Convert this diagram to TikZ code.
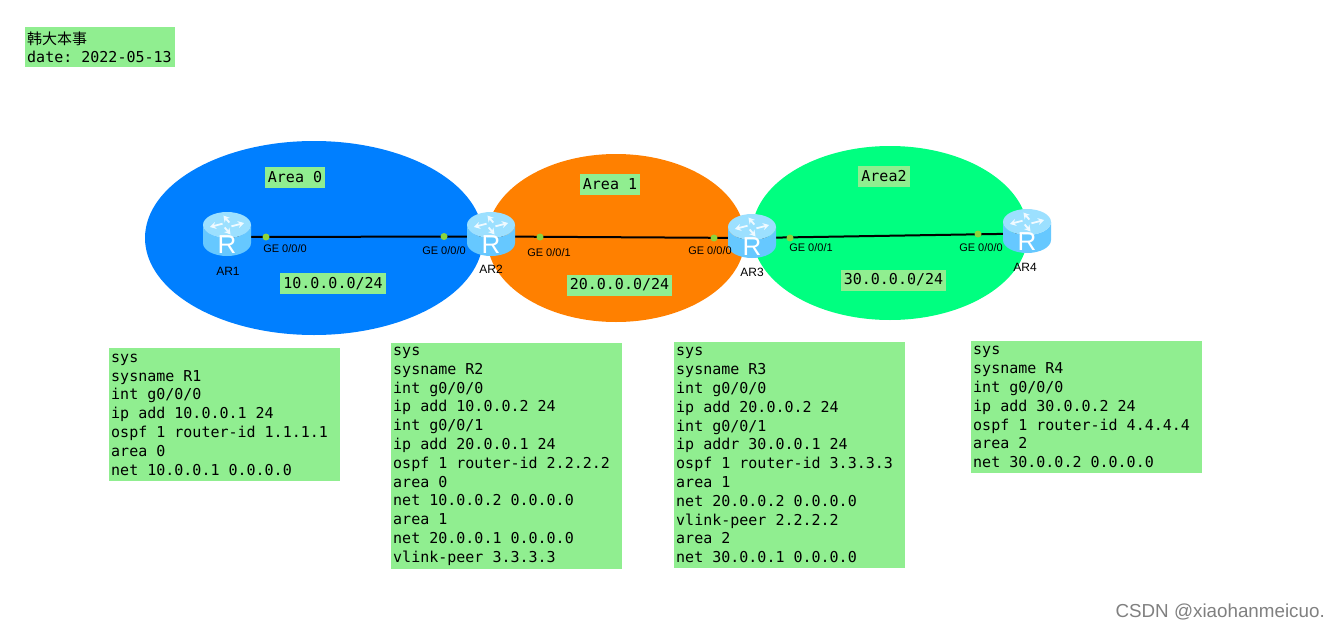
\documentclass[tikz,border=0pt]{standalone}
\usepackage{fontspec}
\setmainfont{Liberation Sans}
\setmonofont{DejaVu Sans Mono}
\newfontfamily\cjkfont{Noto Sans CJK SC}
\usetikzlibrary{arrows.meta}
\definecolor{boxgreen}{HTML}{90EE90}
\definecolor{areablue}{HTML}{007FFF}
\definecolor{areaorange}{HTML}{FF8000}
\definecolor{areagreen}{HTML}{00FF80}
\definecolor{portgreen}{HTML}{8CD43C}
\definecolor{routeredge}{HTML}{66C8FF}
\definecolor{routermid}{HTML}{BDEEFF}
\definecolor{routertop}{HTML}{9CE0FF}
\tikzset{
	cmdbox/.style={fill=boxgreen, anchor=north west, text width=227pt, inner xsep=2pt, inner ysep=3pt, align=flush left, font=\ttfamily\fontsize{15}{18.8}\selectfont},
	tagbox/.style={fill=boxgreen, inner xsep=3pt, inner ysep=0pt, minimum height=21pt, font=\ttfamily\fontsize{15}{18}\selectfont},
	hub/.style={minimum size=1pt, inner sep=0pt},
	portdot/.style={circle, fill=portgreen, inner sep=0pt, minimum size=7pt},
	portlabel/.style={inner sep=0pt, font=\fontsize{11}{13}\selectfont},
	routerlabel/.style={inner sep=0pt, font=\fontsize{12}{14}\selectfont},
	link/.style={line width=2pt, color=black},
}
% router drawn around its centre, #3 is the node name
\newcommand{\routericon}[3]{
	\node[minimum width=48pt, minimum height=44pt, inner sep=0pt] (#3) at (#1, #2) {};
	\begin{scope}[shift={(#1, #2)}]
		\shade[left color=routeredge, middle color=routermid, right color=routeredge]
			(-24, -9) -- (-24, 9) arc (180:0:24 and 13) -- (24, -9) arc (0:180:24 and 13) -- cycle;
		\fill[routertop] (0, -9) ellipse (24 and 13);
		\begin{scope}[shift={(0, -9)}, yscale=0.55]
			\foreach \turn in {25, 115, 205, 295}
				\draw[white!85!routertop, line width=1.8pt, -{Stealth[length=6pt, width=7pt]}, rotate=\turn] (3, 4) -- (17, 4);
		\end{scope}
		\node[inner sep=0pt, text=white, font=\fontsize{26}{26}\selectfont] (#3R) at (0, 11) {R};
	\end{scope}
}

\begin{document}
\begin{tikzpicture}[x=1pt, y=-1pt]
	\useasboundingbox (0, 0) rectangle (1339, 629);
	\fill[white] (0, 0) rectangle (1339, 629);

	%%%%% AREAS %%%%%
	\fill[areablue] (314, 238) ellipse (169 and 97);
	\fill[areaorange] (616, 238) ellipse (129 and 84);
	\fill[areagreen] (890, 233) ellipse (138 and 87);

	%%%%% LINKS %%%%%
	\node[hub] (hub1) at (228, 237) {};
	\node[hub] (hub2) at (491, 236.5) {};
	\node[hub] (hub3) at (752, 238) {};
	\node[hub] (hub4) at (1027, 233.5) {};
	\draw[link] (hub1) -- (hub2);
	\draw[link] (hub2) -- (hub3);
	\draw[link] (hub3) -- (hub4);

	\routericon{227}{234}{AR1}
	\routericon{491}{234}{AR2}
	\routericon{752}{236}{AR3}
	\routericon{1027}{231}{AR4}

	\node[portdot] (dot1) at (266, 237) {};
	\node[portdot] (dot2) at (444, 236.5) {};
	\node[portdot] (dot3) at (540, 237) {};
	\node[portdot] (dot4) at (714, 238) {};
	\node[portdot] (dot5) at (790, 238) {};
	\node[portdot] (dot6) at (978, 234) {};

	\node[portlabel] (ge1) at (285, 249) {GE 0/0/0};
	\node[portlabel] (ge2) at (444, 251) {GE 0/0/0};
	\node[portlabel] (ge3) at (549, 253) {GE 0/0/1};
	\node[portlabel] (ge4) at (710, 251) {GE 0/0/0};
	\node[portlabel] (ge5) at (811, 248) {GE 0/0/1};
	\node[portlabel] (ge6) at (981, 248) {GE 0/0/0};

	\node[routerlabel] (name1) at (228, 271) {AR1};
	\node[routerlabel] (name2) at (491, 269) {AR2};
	\node[routerlabel] (name3) at (752, 272) {AR3};
	\node[routerlabel] (name4) at (1025, 267) {AR4};

	%%%%% TAGS %%%%%
	\node[tagbox] (tag0) at (295, 177.5) {Area 0};
	\node[tagbox] (tag1) at (610, 184) {Area 1};
	\node[tagbox] (tag2) at (884, 176) {Area2};
	\node[tagbox] (net1) at (333, 283.5) {10.0.0.0/24};
	\node[tagbox] (net2) at (619.5, 285) {20.0.0.0/24};
	\node[tagbox] (net3) at (893.5, 280) {30.0.0.0/24};

	%%%%% COMMANDS %%%%%
	\node[cmdbox, text width=146pt, minimum height=40pt] (title) at (25, 27) {{\cjkfont 韩大本事}\\date: 2022-05-13};
	\node[cmdbox, minimum height=133pt] (cmd1) at (109, 348) {sys\\sysname R1\\int g0/0/0\\ip add 10.0.0.1 24\\ospf 1 router-id 1.1.1.1\\area 0\\net 10.0.0.1 0.0.0.0};
	\node[cmdbox, minimum height=226pt] (cmd2) at (391, 343) {sys\\sysname R2\\int g0/0/0\\ip add 10.0.0.2 24\\int g0/0/1\\ip add 20.0.0.1 24\\ospf 1 router-id 2.2.2.2\\area 0\\net 10.0.0.2 0.0.0.0\\area 1\\net 20.0.0.1 0.0.0.0\\vlink-peer 3.3.3.3};
	\node[cmdbox, minimum height=226pt] (cmd3) at (674, 342) {sys\\sysname R3\\int g0/0/0\\ip add 20.0.0.2 24\\int g0/0/1\\ip addr 30.0.0.1 24\\ospf 1 router-id 3.3.3.3\\area 1\\net 20.0.0.2 0.0.0.0\\vlink-peer 2.2.2.2\\area 2\\net 30.0.0.1 0.0.0.0};
	\node[cmdbox, minimum height=132pt] (cmd4) at (971, 341) {sys\\sysname R4\\int g0/0/0\\ip add 30.0.0.2 24\\ospf 1 router-id 4.4.4.4\\area 2\\net 30.0.0.2 0.0.0.0};

	\node[inner sep=0pt, anchor=east, text=black!50, font=\fontsize{18.8}{22}\selectfont] (mark) at (1325, 612) {CSDN @xiaohanmeicuo.};
\end{tikzpicture}
\end{document}
